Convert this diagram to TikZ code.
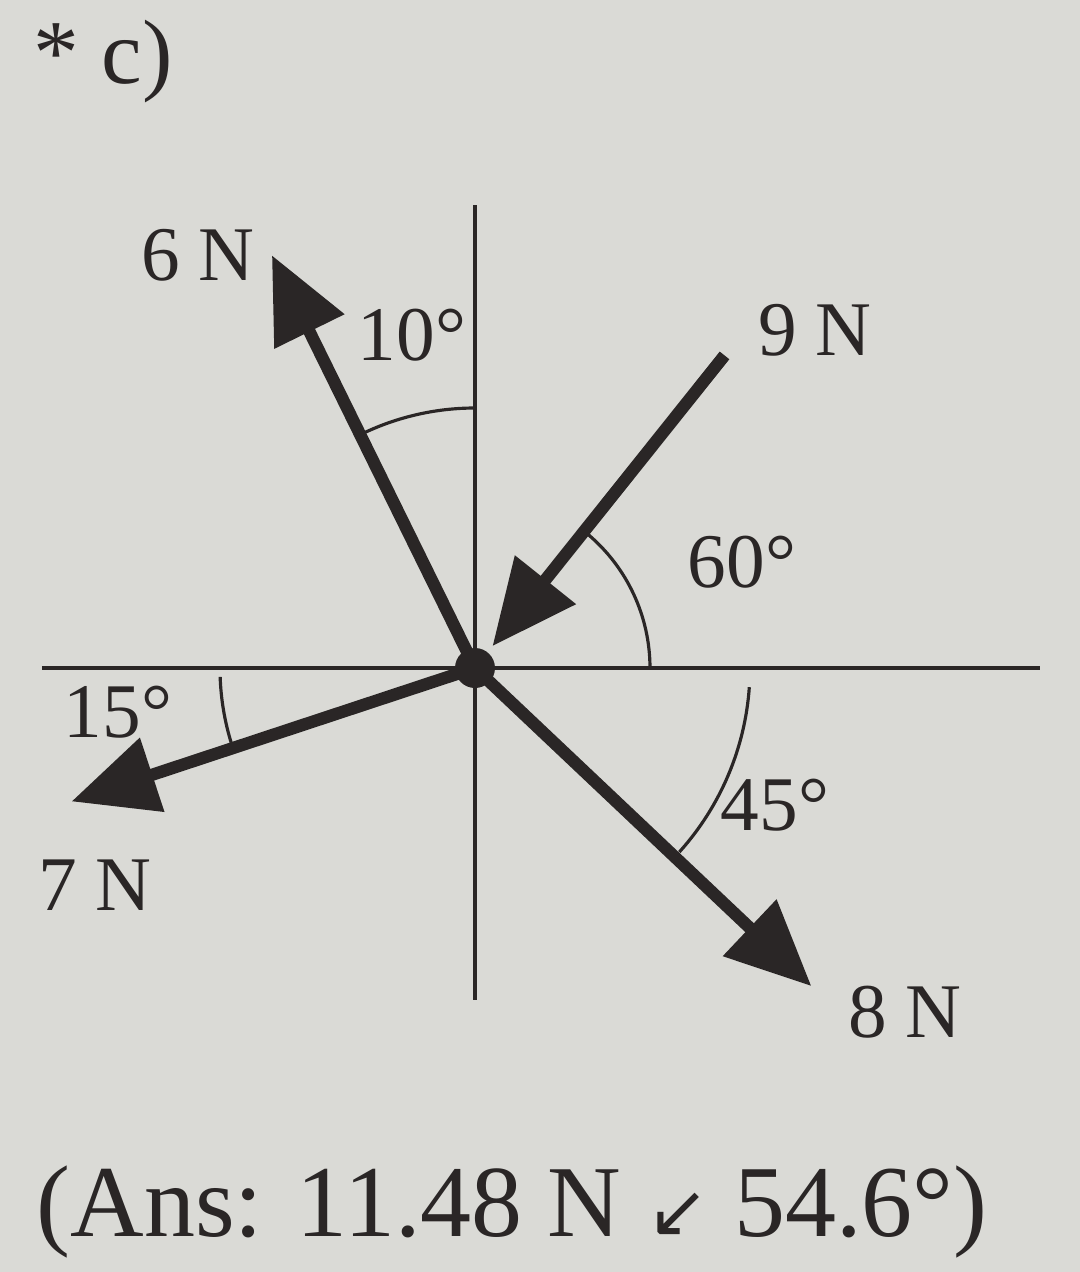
\documentclass[tikz,border=0pt]{standalone}
\usepackage{fontspec}
\setmainfont{Liberation Serif}
\newfontfamily\symfont{DejaVu Sans}
\usetikzlibrary{arrows.meta}
\definecolor{paper}{RGB}{218,218,214}
\definecolor{ink}{RGB}{42,38,38}

\begin{document}
\begin{tikzpicture}[
    force/.style={ink, line width=3.5pt, -{Triangle[length=8.5mm,width=7.5mm]}},
    axis/.style={ink, line width=1pt},
    anglearc/.style={ink, line width=0.9pt},
    lbl/.style={font=\fontsize{22}{24}\selectfont, text=ink, inner sep=0pt},
  ]
    % Page and background
    \useasboundingbox (-4.75,-6.04) rectangle (6.05,6.68);
    \fill[paper] (-4.75,-6.04) rectangle (6.05,6.68);
    \node(title)[lbl, font=\fontsize{26}{28}\selectfont] at (-3.72,6.06) {* c)};

    % Axes
    \coordinate(O) at (0,0);
    \coordinate(west)  at (-4.33,0);
    \coordinate(east)  at (5.65,0);
    \coordinate(north) at (0,4.63);
    \coordinate(south) at (0,-3.32);
    \draw[axis] (west) -- (east);
    \draw[axis] (north) -- (south);

    % Forces
    \coordinate(tip6) at (116.2:4.6);
    \coordinate(tail9) at (51.4:4.0);
    \coordinate(tip9) at (51.4:0.28);
    \coordinate(tip7) at (198.3:4.25);
    \coordinate(tip8) at (-43.4:4.63);
    \draw[force] (O) -- (tip6);
    \draw[force] (tail9) -- (tip9);
    \draw[force] (O) -- (tip7);
    \draw[force] (O) -- (tip8);
    \fill[ink] (O) circle (0.2);

    % Angle arcs
    \draw[anglearc] (90:2.6) arc[start angle=90, end angle=116, radius=2.6];
    \draw[anglearc] (0:1.75) arc[start angle=0, end angle=50, radius=1.75];
    \draw[anglearc] (-4:2.75) arc[start angle=-4, end angle=-42, radius=2.75];
    \draw[anglearc] (182:2.55) arc[start angle=182, end angle=197, radius=2.55];

    % Labels
    \node(f6)[lbl] at (-2.77,4.13) {6 N};
    \node(f9)[lbl] at (3.4,3.38) {9 N};
    \node(f7)[lbl] at (-3.8,-2.17) {7 N};
    \node(f8)[lbl] at (4.3,-3.44) {8 N};
    \node(a10)[lbl] at (-0.63,3.33) {10°};
    \node(a60)[lbl] at (2.67,1.06) {60°};
    \node(a15)[lbl] at (-3.57,-0.44) {15°};
    \node(a45)[lbl] at (3.0,-1.37) {45°};

    % Answer
    \node(ans)[lbl, font=\fontsize{29}{31}\selectfont] at (0.37,-5.44)
      {(Ans: 11.48 N {\symfont\fontsize{21}{23}\selectfont ↙} 54.6°)};
\end{tikzpicture}
\end{document}
